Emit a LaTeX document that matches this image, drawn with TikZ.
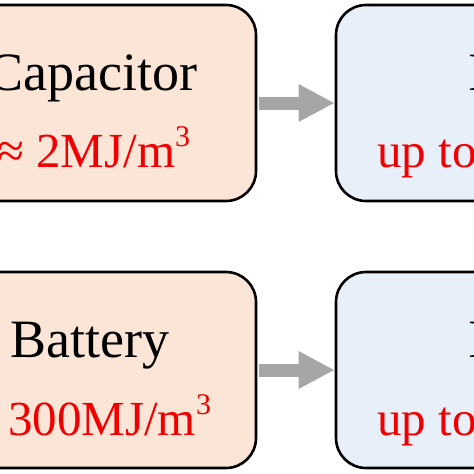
\documentclass[tikz,border=0pt]{standalone}
\usepackage{fontspec}
\setmainfont{Liberation Serif}
\usetikzlibrary{arrows.meta}
\definecolor{peach}{HTML}{FBE5D6}
\definecolor{paleblue}{HTML}{E7EFF9}
\definecolor{arrowgrey}{HTML}{A6A6A6}
\definecolor{densityred}{HTML}{F00000}
\newcommand{\cubed}{\raisebox{0.42em}{\fontsize{30}{30}\selectfont 3}}

\begin{document}
\begin{tikzpicture}[x=1pt,y=-1pt,
  store/.style={draw=black,line width=2.6pt,rounded corners=30pt,minimum width=316pt,minimum height=196pt,inner sep=0pt},
  kind/.style={anchor=base west,inner sep=0pt,font=\fontsize{54}{60}\selectfont},
  density/.style={anchor=base west,inner sep=0pt,text=densityred,font=\fontsize{49}{56}\selectfont},
  towards/.style={arrowgrey,line width=13pt,shorten <=1.3pt,-{Triangle[length=36pt,width=35pt]}}]%
\useasboundingbox (0,0) rectangle (474,474);%
\clip (0,0) rectangle (474,474);%
% boxes
\node[store,fill=peach] (cap) at (98,103) {};%
\node[store,fill=paleblue] (capnext) at (494,103) {};%
\node[store,fill=peach] (bat) at (98,370) {};%
\node[store,fill=paleblue] (batnext) at (494,370) {};%
% texts
\node[kind] (captext) at (-13,90) {Capacitor};%
\node[density] (capval) at (-3,167) {≈ 2MJ/m\cubed};%
\node[kind] (battext) at (10,357) {Battery};%
\node[density] (batval) at (8,435) {300MJ/m\cubed};%
\node[kind] (capnexttext) at (468,90) {I};%
\node[density] (capnextval) at (377,167) {up to};%
\node[kind] (batnexttext) at (468,357) {I};%
\node[density] (batnextval) at (377,435) {up to};%
% arrows
\draw[towards] (cap.east) -- (capnext.west);%
\draw[towards] (bat.east) -- (batnext.west);%
\end{tikzpicture}
\end{document}
